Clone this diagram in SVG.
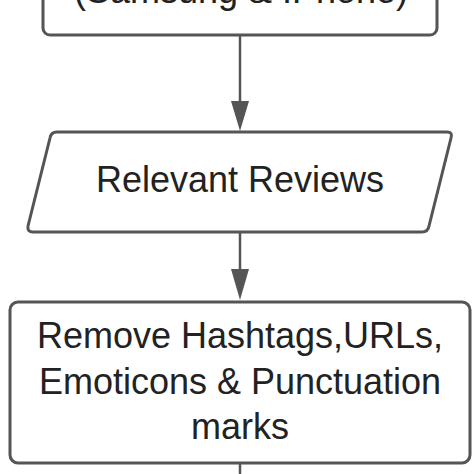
<svg xmlns="http://www.w3.org/2000/svg" width="474" height="474" viewBox="0 0 474 474">
<defs>
<style>
.box{fill:#fff;stroke:#555;stroke-width:3;stroke-linejoin:round}
.t{font-family:"Liberation Sans",Arial,sans-serif;font-size:36px;fill:#222;text-anchor:middle}
.edge{stroke:#555;stroke-width:2.5;fill:none}
.head{fill:#555}
</style>
</defs>
<rect width="474" height="474" fill="#fff"/>
<g id="node-source">
<rect class="box" x="43" y="-30" width="394" height="65" rx="7"/>
<text class="t" x="241" y="3">(Samsung &amp; IPhone)</text>
</g>
<g id="node-relevant">
<path class="box" d="M57,132 L447,132 Q453,132 451,138 L429,226 Q428,232 422,232 L33,232 Q27,232 28,226 L50,138 Q51,132 57,132 Z"/>
<text class="t" x="240" y="192">Relevant Reviews</text>
</g>
<g id="node-remove">
<rect class="box" x="10" y="302" width="460" height="161" rx="8"/>
<text class="t" x="240" y="348">Remove Hashtags,URLs,</text>
<text class="t" x="240" y="394">Emoticons &amp; Punctuation</text>
<text class="t" x="240" y="439">marks</text>
</g>
<g id="connectors">
<line class="edge" x1="240" y1="36" x2="240" y2="104"/>
<polygon class="head" points="231,101 249,101 240,131"/>
<line class="edge" x1="240" y1="233" x2="240" y2="272"/>
<polygon class="head" points="231,269 249,269 240,300"/>
<line class="edge" x1="240" y1="464" x2="240" y2="474"/>
</g>
</svg>
